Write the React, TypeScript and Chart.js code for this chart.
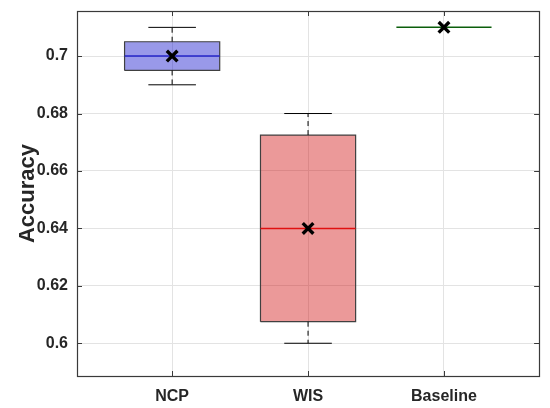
import React, { useEffect, useRef } from "react";
import { Chart, registerables } from "chart.js";

Chart.register(...registerables);

const categories = ["NCP", "WIS", "Baseline"];
const q1 = [0.695, 0.6075, 0.71];
const q3 = [0.705, 0.6725, 0.71];
const medians = [0.7, 0.64, 0.71];
const whiskerLow = [0.69, 0.6, 0.71];
const whiskerHigh = [0.71, 0.68, 0.71];
const means = [0.7, 0.64, 0.71];
const yTicks = [0.6, 0.62, 0.64, 0.66, 0.68, 0.7];

const boxFill = ["rgba(0,0,200,0.4)", "rgba(204,0,0,0.4)", "rgba(0,100,0,0.4)"];
const medianColor = ["#2424c8", "#e01010", "#0b5e0b"];
const BOX_HALF = 0.35;
const CAP_HALF = 0.175;
const AXIS_COLOR = "#3a3a3a";
const EDGE_COLOR = "#404040";

const frameTicks = {
  id: "frameTicks",
  afterDatasetsDraw(chart: any) {
    const { ctx, chartArea: a, scales } = chart;
    const len = 5;
    ctx.save();
    ctx.strokeStyle = AXIS_COLOR;
    ctx.lineWidth = 1;
    ctx.beginPath();
    scales.y.ticks.forEach((t: any) => {
      const py = Math.round(scales.y.getPixelForValue(t.value)) + 0.5;
      ctx.moveTo(a.left, py);
      ctx.lineTo(a.left + len, py);
      ctx.moveTo(a.right, py);
      ctx.lineTo(a.right - len, py);
    });
    scales.x.ticks.forEach((t: any) => {
      const px = Math.round(scales.x.getPixelForValue(t.value)) + 0.5;
      ctx.moveTo(px, a.bottom);
      ctx.lineTo(px, a.bottom - len);
      ctx.moveTo(px, a.top);
      ctx.lineTo(px, a.top + len);
    });
    ctx.stroke();
    ctx.lineWidth = 1.2;
    ctx.strokeRect(Math.round(a.left) + 0.5, Math.round(a.top) + 0.5, Math.round(a.right - a.left), Math.round(a.bottom - a.top));
    ctx.restore();
  },
};

export default function App() {
  const ref = useRef<HTMLCanvasElement | null>(null);

  useEffect(() => {
    if (!ref.current) return;
    const datasets: any[] = [];
    categories.forEach((_, i) => {
      const x = i + 1;
      const flat = q1[i] === q3[i];
      datasets.push({
        type: "scatter",
        showLine: true,
        data: [
          { x: x - BOX_HALF, y: q1[i] },
          { x: x + BOX_HALF, y: q1[i] },
          { x: x + BOX_HALF, y: q3[i] },
          { x: x - BOX_HALF, y: q3[i] },
          { x: x - BOX_HALF, y: q1[i] },
        ],
        fill: "shape",
        backgroundColor: boxFill[i],
        borderColor: flat ? "rgba(0,0,0,0)" : EDGE_COLOR,
        borderWidth: 1.2,
        pointRadius: 0,
        order: 6,
      });
      if (!flat) {
        datasets.push({
          type: "scatter",
          showLine: true,
          data: [
            { x, y: q3[i] },
            { x, y: whiskerHigh[i] },
          ],
          borderColor: "#000",
          borderWidth: 1,
          borderDash: [5, 4],
          pointRadius: 0,
          order: 5,
        });
        datasets.push({
          type: "scatter",
          showLine: true,
          data: [
            { x, y: q1[i] },
            { x, y: whiskerLow[i] },
          ],
          borderColor: "#000",
          borderWidth: 1,
          borderDash: [5, 4],
          pointRadius: 0,
          order: 5,
        });
        [whiskerHigh[i], whiskerLow[i]].forEach((w) => {
          datasets.push({
            type: "scatter",
            showLine: true,
            data: [
              { x: x - CAP_HALF, y: w },
              { x: x + CAP_HALF, y: w },
            ],
            borderColor: "#000",
            borderWidth: 1,
            pointRadius: 0,
            order: 4,
          });
        });
      }
      datasets.push({
        type: "scatter",
        showLine: true,
        data: [
          { x: x - BOX_HALF, y: medians[i] },
          { x: x + BOX_HALF, y: medians[i] },
        ],
        borderColor: medianColor[i],
        borderWidth: 1.5,
        pointRadius: 0,
        order: 2,
      });
    });
    datasets.push({
      type: "scatter",
      data: means.map((m, i) => ({ x: i + 1, y: m })),
      pointStyle: "crossRot",
      pointRadius: 7.5,
      borderColor: "#000",
      borderWidth: 3.4,
      order: 1,
    });

    const chart = new Chart(ref.current, {
      type: "scatter",
      data: { datasets },
      plugins: [frameTicks],
      options: {
        animation: false,
        responsive: false,
        devicePixelRatio: 1,
        layout: { padding: { top: 11, right: 10, left: 0, bottom: 0 } },
        plugins: { legend: { display: false }, tooltip: { enabled: false } },
        scales: {
          x: {
            type: "linear",
            min: 0.3,
            max: 3.7,
            afterBuildTicks: (s: any) => {
              s.ticks = categories.map((_, i) => ({ value: i + 1 }));
            },
            afterFit: (s: any) => {
              s.height = 32;
              s.paddingLeft = 0;
              s.paddingRight = 0;
            },
            ticks: {
              callback: (v: any) => categories[Math.round(v) - 1],
              color: "#262626",
              padding: 11,
              maxRotation: 0,
              font: { family: "'Liberation Sans', Arial, sans-serif", size: 16, weight: "bold" },
            },
            grid: { color: "#e3e3e3", drawTicks: false, lineWidth: 1 },
            border: { display: false },
          },
          y: {
            type: "linear",
            min: 0.5886,
            max: 0.7157,
            afterBuildTicks: (s: any) => {
              s.ticks = yTicks.map((v) => ({ value: v }));
            },
            afterFit: (s: any) => {
              s.width = 77;
              s.paddingTop = 0;
              s.paddingBottom = 0;
            },
            ticks: {
              callback: (v: any) => String(Number(Number(v).toFixed(2))),
              color: "#262626",
              padding: 9,
              font: { family: "'Liberation Sans', Arial, sans-serif", size: 16, weight: "bold" },
            },
            title: {
              display: true,
              text: "Accuracy",
              color: "#262626",
              padding: { top: 15, bottom: 0 },
              font: { family: "'Liberation Sans', Arial, sans-serif", size: 22, weight: "bold", lineHeight: 1.2 },
            },
            grid: { color: "#e3e3e3", drawTicks: false, lineWidth: 1 },
            border: { display: false },
          },
        },
      } as any,
    });
    return () => chart.destroy();
  }, []);

  return (
    <div style={{ position: "fixed", left: 0, top: 0, width: 550, height: 408, background: "#fff" }}>
      <canvas ref={ref} width={550} height={408} />
    </div>
  );
}
